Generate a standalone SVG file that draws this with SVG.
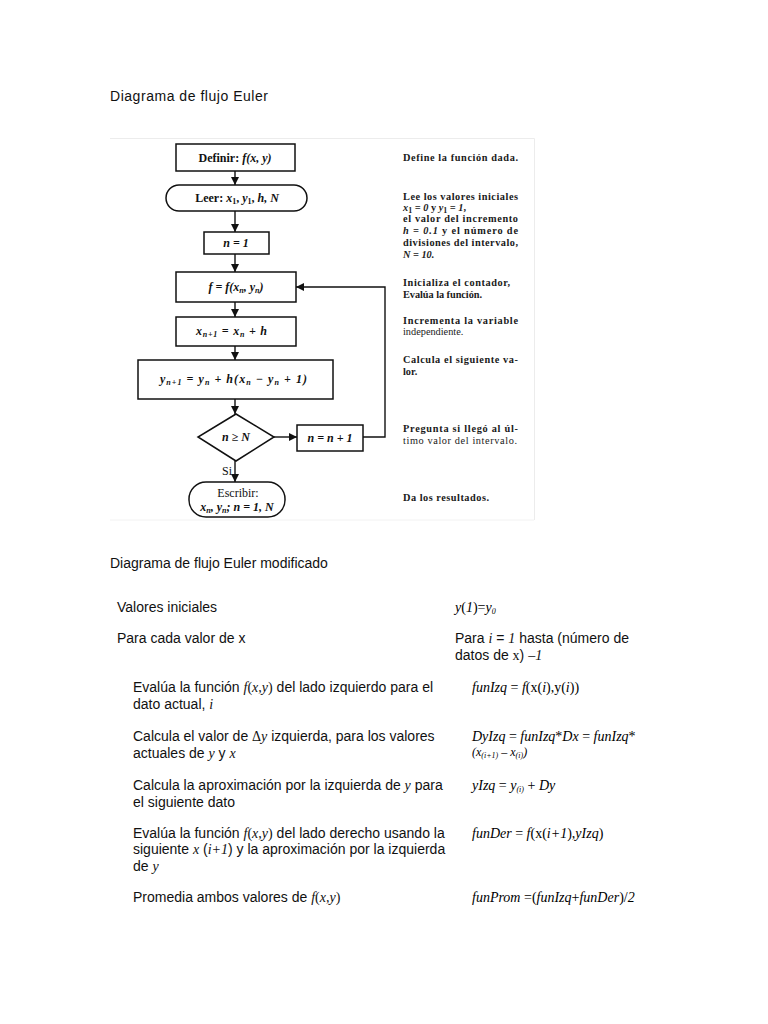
<svg xmlns="http://www.w3.org/2000/svg" width="768" height="1024" viewBox="0 0 768 1024">
<style>
.h{font-family:"Liberation Sans",Arial,sans-serif;font-size:14px;fill:#111}
.t{font-family:"Liberation Sans",Arial,sans-serif;font-size:14px;fill:#111}
.m{font-family:"Liberation Serif","Times New Roman",serif;font-style:italic;font-size:14px}
.r{font-family:"Liberation Serif","Times New Roman",serif;font-style:normal}
.fc{font-family:"Liberation Serif","Times New Roman",serif;font-size:12px;font-weight:bold;fill:#111}
.i{font-style:italic}
.s{font-size:8px}
.d{font-family:"Liberation Serif","Times New Roman",serif;font-size:10.3px;font-weight:bold;fill:#1a1a1a}
.box{fill:#fff;stroke:#111;stroke-width:1.5}
.ln{fill:none;stroke:#111;stroke-width:1.4}
</style>
<defs>
<marker id="ah" viewBox="0 0 10 10" refX="10" refY="5" markerWidth="8" markerHeight="8" markerUnits="userSpaceOnUse" orient="auto">
<path d="M0,0 L10,5 L0,10 z" fill="#111"/>
</marker>
</defs>
<rect width="768" height="1024" fill="#fff"/>
<text class="h" x="110" y="101" textLength="158" lengthAdjust="spacing">Diagrama de flujo Euler</text>
<path d="M110,138.5 H534.5 V520" fill="none" stroke="#ececec" stroke-width="1"/>
<line x1="110" y1="520" x2="534" y2="520" stroke="#f2f2f2" stroke-width="1"/>

<g id="connectors">
<line class="ln" x1="235" y1="171" x2="235" y2="185" marker-end="url(#ah)"/>
<line class="ln" x1="235" y1="211" x2="235" y2="232" marker-end="url(#ah)"/>
<line class="ln" x1="235" y1="254" x2="235" y2="272" marker-end="url(#ah)"/>
<line class="ln" x1="235" y1="302" x2="235" y2="317" marker-end="url(#ah)"/>
<line class="ln" x1="235" y1="346" x2="235" y2="360" marker-end="url(#ah)"/>
<line class="ln" x1="235" y1="399" x2="235" y2="414" marker-end="url(#ah)"/>
<line class="ln" x1="274" y1="437" x2="297" y2="437" marker-end="url(#ah)"/>
<polyline class="ln" points="363,437 385,437 385,287 296,287" marker-end="url(#ah)"/>
<line class="ln" x1="235" y1="461" x2="235" y2="482" marker-end="url(#ah)"/>
<text class="fc" x="232" y="475" text-anchor="end" style="font-weight:normal">Si</text>
</g>

<g id="definir">
<rect class="box" x="176" y="144" width="119" height="27"/>
<text class="fc" x="235" y="162" text-anchor="middle">Definir:  <tspan class="i">f(x, y)</tspan></text>
</g>
<g id="leer">
<rect class="box" x="166" y="185" width="141" height="26" rx="13"/>
<text class="fc" x="237" y="202" text-anchor="middle">Leer:  <tspan class="i">x</tspan><tspan class="s" dy="2">1</tspan><tspan dy="-2">, </tspan><tspan class="i">y</tspan><tspan class="s" dy="2">1</tspan><tspan dy="-2">, </tspan><tspan class="i">h, N</tspan></text>
</g>
<g id="n1">
<rect class="box" x="204" y="232" width="65" height="22"/>
<text class="fc i" x="236" y="247" text-anchor="middle">n = 1</text>
</g>
<g id="feval">
<rect class="box" x="176" y="272" width="120" height="30"/>
<text class="fc i" x="236" y="291" text-anchor="middle">f = f(x<tspan class="s" dy="2">n</tspan><tspan dy="-2">, y</tspan><tspan class="s" dy="2">n</tspan><tspan dy="-2">)</tspan></text>
</g>
<g id="xnext">
<rect class="box" x="176" y="317" width="120" height="29"/>
<text class="fc i" x="196" y="335" textLength="71" lengthAdjust="spacing">x<tspan class="s" dy="2">n+1</tspan><tspan dy="-2"> = x</tspan><tspan class="s" dy="2">n</tspan><tspan dy="-2"> + h</tspan></text>
</g>
<g id="ynext">
<rect class="box" x="138" y="360" width="195" height="39"/>
<text class="fc i" x="160" y="383" textLength="147" lengthAdjust="spacing">y<tspan class="s" dy="2">n+1</tspan><tspan dy="-2"> =   y</tspan><tspan class="s" dy="2">n</tspan><tspan dy="-2"> + h(x</tspan><tspan class="s" dy="2">n</tspan><tspan dy="-2"> − y</tspan><tspan class="s" dy="2">n</tspan><tspan dy="-2"> + 1)</tspan></text>
</g>
<g id="decision">
<polygon class="box" points="236,414 274,437 236,461 198,437"/>
<text class="fc i" x="236" y="441" text-anchor="middle">n ≥ N</text>
</g>
<g id="increment">
<rect class="box" x="297" y="425" width="66" height="26"/>
<text class="fc i" x="330" y="442" text-anchor="middle">n = n + 1</text>
</g>
<g id="escribir">
<rect class="box" x="189" y="482" width="96" height="35" rx="17"/>
<text class="fc" x="238" y="497" text-anchor="middle" style="font-weight:normal">Escribir:</text>
<text class="fc i" x="237" y="511" text-anchor="middle">x<tspan class="s" dy="2">n</tspan><tspan dy="-2">, y</tspan><tspan class="s" dy="2">n</tspan><tspan dy="-2">; n = 1,  N</tspan></text>
</g>

<g id="descriptions">
<text class="d" x="403" y="161" textLength="115" lengthAdjust="spacing">Define la función dada.</text>
<text class="d" x="403" y="200" textLength="115" lengthAdjust="spacing">Lee los valores iniciales</text>
<text class="d" x="403" y="211"><tspan class="i">x</tspan><tspan class="s" dy="2">1</tspan><tspan dy="-2" class="i"> = 0</tspan>  y  <tspan class="i">y</tspan><tspan class="s" dy="2">1</tspan><tspan dy="-2" class="i"> = 1</tspan>,</text>
<text class="d" x="403" y="222" textLength="115" lengthAdjust="spacing">el valor del incremento</text>
<text class="d" x="403" y="234" textLength="115" lengthAdjust="spacing"><tspan class="i">h = 0.1</tspan> y el número de</text>
<text class="d" x="403" y="246" textLength="115" lengthAdjust="spacing">divisiones del intervalo,</text>
<text class="d i" x="403" y="258">N = 10.</text>
<text class="d" x="403" y="286" textLength="107" lengthAdjust="spacing">Inicializa el contador,</text>
<text class="d" x="403" y="298" textLength="79" lengthAdjust="spacing">Evalúa la función.</text>
<text class="d" x="403" y="324" textLength="115" lengthAdjust="spacing">Incrementa la variable</text>
<text class="d" x="403" y="335" style="font-weight:normal">independiente.</text>
<text class="d" x="403" y="363" textLength="115" lengthAdjust="spacing">Calcula el siguiente va-</text>
<text class="d" x="403" y="375">lor.</text>
<text class="d" x="403" y="432" textLength="115" lengthAdjust="spacing">Pregunta si llegó al úl-</text>
<text class="d" x="403" y="444" textLength="114" lengthAdjust="spacing" style="font-weight:normal">timo valor del intervalo.</text>
<text class="d" x="403" y="501" textLength="86" lengthAdjust="spacing">Da los resultados.</text>
</g>

<g id="table">
<text class="h" x="110" y="568">Diagrama de flujo Euler modificado</text>
<text class="t" x="117" y="612">Valores iniciales</text>
<text class="m" x="455" y="612">y<tspan class="r">(</tspan>1<tspan class="r">)=</tspan>y<tspan class="s" dy="2">0</tspan></text>
<text class="t" x="117" y="643">Para cada valor de x</text>
<text class="t" x="455" y="643">Para <tspan class="m">i</tspan> = <tspan class="m">1</tspan> hasta (número de</text>
<text class="t" x="455" y="660">datos de <tspan class="m r">x</tspan>) <tspan class="m">–1</tspan></text>

<text class="t" x="133" y="692">Evalúa la función <tspan class="m">f</tspan><tspan class="m r">(</tspan><tspan class="m">x,y</tspan><tspan class="m r">)</tspan> del lado izquierdo para el</text>
<text class="t" x="133" y="709">dato actual, <tspan class="m">i</tspan></text>
<text class="m" x="472" y="692">funIzq <tspan class="r">=</tspan> f<tspan class="r">(x(</tspan>i<tspan class="r">),y(</tspan>i<tspan class="r">))</tspan></text>

<text class="t" x="133" y="741">Calcula el valor de <tspan class="m r">Δ</tspan><tspan class="m">y</tspan> izquierda, para los valores</text>
<text class="t" x="133" y="758">actuales de <tspan class="m">y</tspan> y <tspan class="m">x</tspan></text>
<text class="m" x="472" y="741">DyIzq <tspan class="r">=</tspan> funIzq<tspan class="r">*</tspan>Dx <tspan class="r">=</tspan> funIzq<tspan class="r">*</tspan></text>
<text class="m" x="472" y="756" style="font-size:12px">(x<tspan class="s" dy="2">(i+1)</tspan><tspan dy="-2"> – x</tspan><tspan class="s" dy="2">(i)</tspan><tspan dy="-2">)</tspan></text>

<text class="t" x="133" y="790">Calcula la aproximación por la izquierda de <tspan class="m">y</tspan> para</text>
<text class="t" x="133" y="807">el siguiente dato</text>
<text class="m" x="472" y="790">yIzq <tspan class="r">=</tspan> y<tspan class="s" dy="2">(i)</tspan><tspan dy="-2" class="r"> + </tspan>Dy</text>

<text class="t" x="133" y="838">Evalúa la función <tspan class="m">f</tspan><tspan class="m r">(</tspan><tspan class="m">x,y</tspan><tspan class="m r">)</tspan> del lado derecho usando la</text>
<text class="t" x="133" y="854">siguiente <tspan class="m">x</tspan> (<tspan class="m">i+1</tspan>) y la aproximación por la izquierda</text>
<text class="t" x="133" y="871">de <tspan class="m">y</tspan></text>
<text class="m" x="472" y="838">funDer <tspan class="r">=</tspan> f<tspan class="r">(x(</tspan>i+1<tspan class="r">),</tspan>yIzq<tspan class="r">)</tspan></text>

<text class="t" x="133" y="902">Promedia ambos valores de  <tspan class="m">f</tspan><tspan class="m r">(</tspan><tspan class="m">x,y</tspan><tspan class="m r">)</tspan></text>
<text class="m" x="472" y="902">funProm <tspan class="r">=(</tspan>funIzq<tspan class="r">+</tspan>funDer<tspan class="r">)/</tspan>2</text>
</g>
</svg>
